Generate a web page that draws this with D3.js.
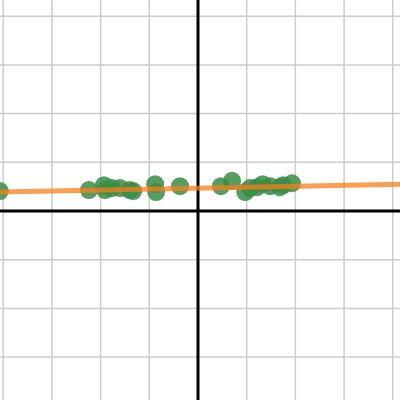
<!DOCTYPE html><html><head><meta charset="utf-8"><script src="https://cdn.jsdelivr.net/npm/d3@7"></script>
<style>body{margin:0}</style></head><body><svg id="c" width="400" height="400"></svg><script>
const xs=[-4.07,-2.24,-1.93,-1.91,-1.77,-1.60,-1.40,-1.33,-0.88,-0.86,-0.37,0.47,0.70,0.97,1.07,1.21,1.33,1.48,1.68,1.75,1.93];
const ys=[0.41,0.43,0.53,0.43,0.47,0.47,0.43,0.41,0.55,0.39,0.51,0.51,0.62,0.39,0.47,0.49,0.55,0.51,0.49,0.53,0.57];
const slope=0.0195, intercept=0.47;
const gridX=[-4,-3,-2,-1,1,2,3,4], gridY=[-3,-2,-1,1,2,3,4];
const svg=d3.select("#c");
const x=d3.scaleLinear().domain([-4.066,4.148]).range([0,400]);
const y=d3.scaleLinear().domain([-3.881,4.333]).range([400,0]);
svg.append("rect").attr("width",400).attr("height",400).attr("fill","#fff");
svg.selectAll(".gx").data(gridX).join("line").attr("x1",d=>x(d)).attr("x2",d=>x(d)).attr("y1",0).attr("y2",400).attr("stroke","#ccc").attr("stroke-width",1.5);
svg.selectAll(".gy").data(gridY).join("line").attr("y1",d=>y(d)).attr("y2",d=>y(d)).attr("x1",0).attr("x2",400).attr("stroke","#ccc").attr("stroke-width",1.5);
svg.append("line").attr("x1",x(0)).attr("x2",x(0)).attr("y1",0).attr("y2",400).attr("stroke","#000").attr("stroke-width",3);
svg.append("line").attr("y1",y(0)).attr("y2",y(0)).attr("x1",0).attr("x2",400).attr("stroke","#000").attr("stroke-width",3);
svg.selectAll("circle").data(xs.map((v,i)=>[v,ys[i]])).join("circle").attr("cx",d=>x(d[0])).attr("cy",d=>y(d[1])).attr("r",9).attr("fill","#388c46").attr("fill-opacity",0.85);
const xd=x.domain();
svg.append("line").attr("x1",x(xd[0])).attr("x2",x(xd[1])).attr("y1",y(slope*xd[0]+intercept)).attr("y2",y(slope*xd[1]+intercept)).attr("stroke","#fa7e19").attr("stroke-width",5).attr("stroke-opacity",0.75);
</script></body></html>
